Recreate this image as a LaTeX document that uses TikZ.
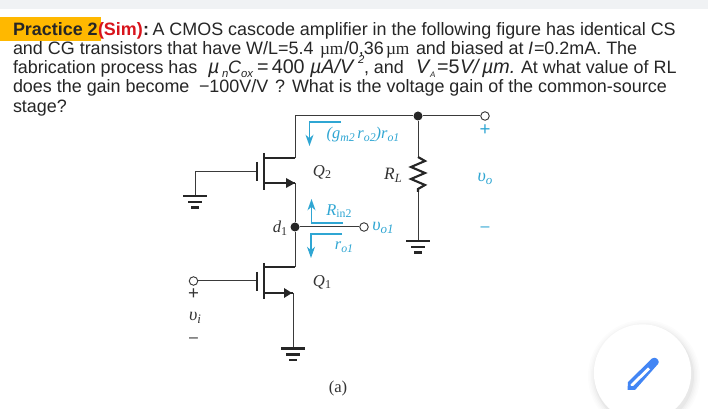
\documentclass[tikz,border=0pt]{standalone}
\usepackage{fontspec}
\usepackage{graphicx}
\setmainfont{Liberation Sans}
\newfontfamily\serifbook{Liberation Serif}
\usetikzlibrary{arrows.meta}
\definecolor{inkdark}{HTML}{262626}
\definecolor{wirecol}{HTML}{3A3A3A}
\definecolor{cyanbook}{HTML}{2FA6D3}
\definecolor{orangehl}{HTML}{FFB800}
\definecolor{simred}{HTML}{D8141C}
\definecolor{topbar}{HTML}{F0F2F4}
\definecolor{penblue}{HTML}{4285F4}
\newcommand{\dn}[1]{\raisebox{-0.35ex}{\scalebox{0.72}{#1}}}
\tikzset{
  x=0.75pt,y=-0.75pt,
  txt/.style={anchor=base west,inner sep=0pt,outer sep=0pt,text=inkdark,font=\fontsize{13.45}{13.45}\selectfont},
  btxt/.style={txt,font=\fontsize{13.45}{13.45}\selectfont\bfseries},
  stxt/.style={txt,font=\serifbook\fontsize{13}{13}\selectfont},
  itxt/.style={txt,font=\fontsize{14.8}{14.8}\selectfont\itshape},
  ntxt/.style={txt,font=\fontsize{14.8}{14.8}\selectfont},
  subtxt/.style={txt,font=\fontsize{8.5}{8.5}\selectfont\itshape},
  wire/.style={draw=wirecol,line width=0.75pt},
  bar/.style={draw=black!85,line width=1.7pt},
  dotn/.style={circle,fill=black!85,inner sep=0pt,minimum size=9pt*0.75},
  term/.style={circle,draw=wirecol,fill=white,line width=0.7pt,inner sep=0pt,minimum size=8.5pt*0.75},
  cy/.style={draw=cyanbook,line width=1.1pt},
  cyarrow/.style={cy,-{Stealth[length=8.5pt,width=6pt]}},
  cylab/.style={inner sep=0pt,text=cyanbook,font=\serifbook\fontsize{12.3}{12.3}\selectfont\itshape},
  circlab/.style={inner sep=0pt,text=black!80,font=\serifbook\fontsize{12.5}{12.5}\selectfont\itshape},
  gndbar/.style={draw=black!85},
  srcarrow/.style={fill=black!85,draw=none}
}
\newcommand{\gnd}[3]{%
  \draw[gndbar,line width=1.6pt] (#1-12,#2) -- (#1+12,#2);
  \draw[gndbar,line width=1.6pt] (#1-7,#2+6) -- (#1+7,#2+6);
  \draw[gndbar,line width=1.6pt] (#1-4,#2+11.5) -- (#1+4,#2+11.5);
}
\begin{document}
\begin{tikzpicture}
\clip (0,0) rectangle (708,409);
\fill[white] (0,0) rectangle (708,409);
\fill[topbar] (0,0) rectangle (708,9);
\fill[orangehl] (0,17) rectangle (101,41);

% --- text ---
\node[btxt] (t1a) at (13,36) {Practice 2};
\node[btxt,text=simred] (t1b) at (98,36) {(Sim)};
\node[btxt] (t1c) at (143,36) {:};
\node[txt] (t1d) at (152.5,36) {A CMOS cascode amplifier in the following figure has identical CS};

\node[txt] (t2a) at (13,55) {and CG transistors that have W/L=5.4};
\node[stxt] (t2b) at (320,55) {µm};
\node[txt] (t2c) at (344,55) {/0,36};
\node[stxt] (t2d) at (386,55) {µm};
\node[txt] (t2e) at (416,55) {and biased at};
\node[txt,font=\fontsize{13.45}{13.45}\selectfont\itshape] (t2f) at (528,55) {I};
\node[txt] (t2g) at (534,55) {=0.2mA. The};

\node[txt] (t3a) at (13,74) {fabrication process has};
\node[itxt] (t3b) at (208,74) {µ};
\node[subtxt] (t3c) at (222,78) {n};
\node[itxt,font=\fontsize{13.5}{13.5}\selectfont\itshape] (t3d) at (228,74) {C};
\node[subtxt] (t3e) at (241,78) {ox};
\node[ntxt] (t3f) at (257,74) {=\,400};
\node[itxt] (t3g) at (310,74) {µA/V};
\node[subtxt] (t3h) at (358,64) {2};
\node[txt] (t3i) at (364,74) {, and};
\node[itxt] (t3j) at (416,74) {V};
\node[subtxt,font=\fontsize{6}{6}\selectfont\itshape] (t3k) at (430,78) {A};
\node[ntxt] (t3l) at (437,74) {=5};
\node[itxt] (t3m) at (460,74) {V/};
\node[itxt] (t3o) at (482,74) {µm.};
\node[txt] (t3n) at (521,74) {At what value of RL};

\node[txt] (t4a) at (13,93) {does the gain become};
\node[txt] (t4b) at (199,93) {−100V/V};
\node[txt] (t4c) at (275,93) {?};
\node[txt] (t4d) at (292,93) {What is the voltage gain of the common-source};
\node[txt] (t5a) at (13,113) {stage?};

% --- named points ---
\coordinate (topL) at (295,116);
\node[dotn] (vdd) at (418,116) {};
\node[term] (vout) at (485,116) {};
\coordinate (d2) at (295,158);
\coordinate (d2c) at (264,158);
\coordinate (g2c) at (257,172);
\coordinate (g2L) at (195,172);
\coordinate (g2g) at (195,196);
\coordinate (s2c) at (264,183);
\coordinate (s2) at (295,183);
\node[dotn] (d1) at (295,227) {};
\node[term] (vo1) at (364,227) {};
\coordinate (d1c) at (264,267);
\coordinate (d1r) at (295,267);
\coordinate (g1c) at (257,281);
\node[term] (vi) at (193.5,281) {};
\coordinate (s1c) at (264,293);
\coordinate (s1) at (293,293);
\coordinate (s1g) at (293,348);
\coordinate (rlt) at (418,157);
\coordinate (rlb) at (418,192);
\coordinate (rlg) at (418,241);

% --- wires ---
\draw[wire] (topL) -- (vdd) -- (vout);
\draw[wire] (topL) -- (d2);
\draw[bar,line width=1.1pt] (d2) -- (d2c);
\draw[wire] (g2c) -- (g2L) -- (g2g);
\draw[bar,line width=1.1pt] (s2c) -- (s2);
\draw[wire] (s2) -- (d1) -- (d1r);
\draw[bar,line width=1.1pt] (d1r) -- (d1c);
\draw[wire] (d1) -- (vo1);
\draw[wire] (vi) -- (g1c);
\draw[bar,line width=1.1pt] (s1c) -- (s1);
\draw[wire] (s1) -- (s1g);
\draw[wire] (vdd) -- (rlt);
\draw[bar,line width=1.6pt,line join=miter] (rlt) -- (425,161) -- (411,167) -- (425,173) -- (411,179) -- (425,185) -- (418,189) -- (rlb);
\draw[wire] (rlb) -- (rlg);

% --- transistors ---
\draw[bar,line width=2pt] (264,153) -- (264,190);
\draw[bar,line width=2pt] (257,162) -- (257,181);
\fill[srcarrow] (295,183) -- (286,178) -- (286,188) -- cycle;
\draw[bar,line width=2pt] (264,263) -- (264,299);
\draw[bar,line width=2pt] (257,272) -- (257,291);
\fill[srcarrow] (292,293) -- (284,288) -- (284,298) -- cycle;

% --- grounds ---
\gnd{195}{196}{}
\gnd{293}{348.5}{}
\gnd{418}{241}{}

% --- cyan arrows ---
\draw[cyarrow] (341,122) -- (309.5,122) -- (309.5,146);
\draw[cyarrow] (343,223) -- (311.5,223) -- (311.5,199);
\draw[cyarrow] (342,234) -- (311,234) -- (311,258);

% --- circuit labels ---
\node[cylab] (l1) at (363,135) {(g\dn{m2}\,r\dn{o2})r\dn{o1}};
\node[cylab] (l2) at (339,211) {R\dn{\upshape in2}};
\node[cylab] (l3) at (344,247) {r\dn{o1}};
\node[cylab,font=\serifbook\fontsize{13.5}{13.5}\selectfont\itshape] (l4) at (383,228) {υ\dn{o1}};
\node[cylab,font=\fontsize{14}{14}\selectfont] (l5) at (485,130) {+};
\node[cylab,font=\serifbook\fontsize{13.5}{13.5}\selectfont\itshape] (l6) at (485,179) {υ\dn{o}};
\node[cylab,font=\fontsize{12}{12}\selectfont] (l7) at (485,229) {–};
\node[circlab] (q2) at (322,172) {Q\dn{\upshape 2}};
\node[circlab] (q1) at (322,282) {Q\dn{\upshape 1}};
\node[circlab,font=\serifbook\fontsize{13}{13}\selectfont\itshape] (rl) at (393,175) {R\dn{L}};
\node[circlab] (d1l) at (280,228) {d\dn{\upshape 1}};
\node[circlab,font=\fontsize{14}{14}\selectfont\upshape] (pl) at (193.5,294) {+};
\node[circlab,font=\serifbook\fontsize{13.5}{13.5}\selectfont\itshape] (vil) at (195,318) {υ\dn{i}};
\node[circlab,font=\fontsize{12}{12}\selectfont\upshape] (mi) at (193.5,340) {–};
\node[circlab,font=\serifbook\fontsize{12.5}{12.5}\selectfont] (a) at (338,388) {(a)};

% --- edit button ---
\foreach \r/\o in {56/0.010,54.5/0.012,53/0.016,51.5/0.02,50/0.03}{
  \fill[black,opacity=\o] (644,376) circle[radius=\r];
}
\node[circle,fill=white,inner sep=0pt,minimum size=73pt] (btn) at (642.5,373) {};
\fill[penblue] (627.5,390) -- (628,382) -- (652,358.5) .. controls (654,357.5) and (655.5,357.5) .. (656.5,358.5) -- (658,360) .. controls (659,361) and (659,363) .. (658,364) -- (635,390) -- cycle;
\fill[white] (631,386) -- (630.5,384.5) -- (648,367.5) -- (650,369.5) -- (633,386) -- cycle;
\end{tikzpicture}
\end{document}
